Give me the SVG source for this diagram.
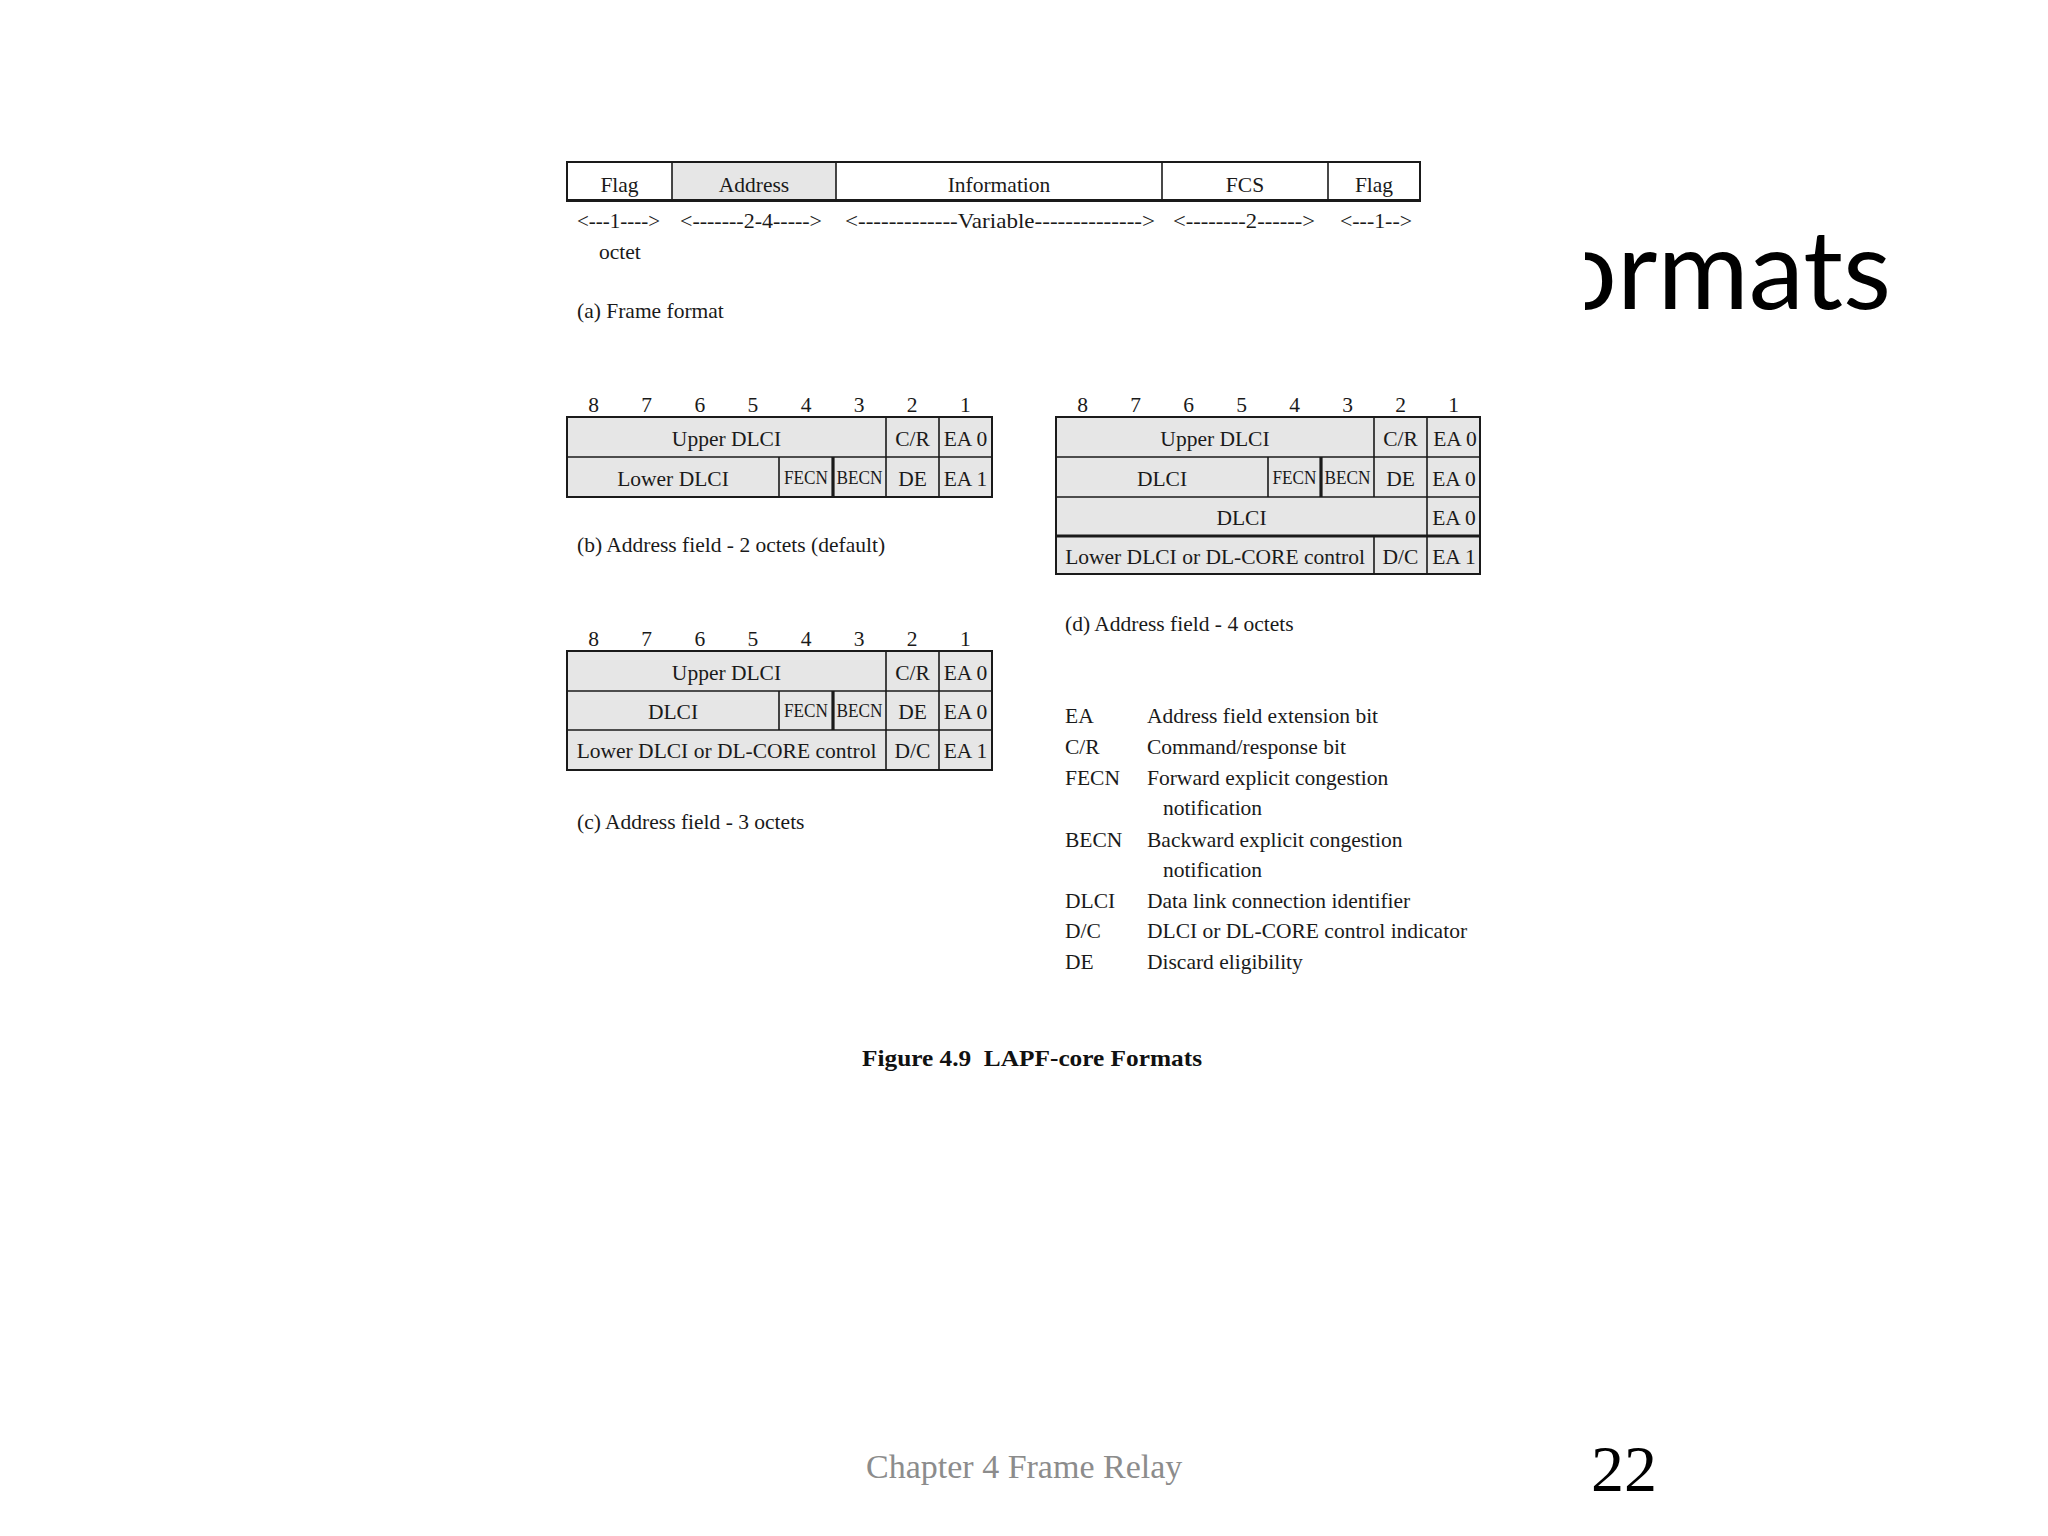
<svg xmlns="http://www.w3.org/2000/svg" width="2048" height="1536" viewBox="0 0 2048 1536">
<style>
.t{font-family:"Liberation Serif","Times New Roman",serif;font-size:21.5px;fill:#1a1a1a}
.m{text-anchor:middle}
.sm{font-family:"Liberation Serif","Times New Roman",serif;font-size:18px;fill:#1a1a1a;text-anchor:middle}
.cell{fill:#e6e6e6;stroke:none}
.wcell{fill:#ffffff;stroke:none}
.ln{stroke:#1a1a1a;stroke-width:1.6;fill:none}
.bd{stroke:#1a1a1a;stroke-width:2;fill:none}
.tk{stroke:#1a1a1a;stroke-width:3.2;fill:none}
</style>
<defs>
<clipPath id="titleclip"><rect x="1585" y="200" width="420" height="150"/></clipPath>
</defs>
<rect x="0" y="0" width="2048" height="1536" fill="#ffffff"/>

<g id="title" clip-path="url(#titleclip)">
<text x="1891" y="309" text-anchor="end" font-family="Lato,'Open Sans',sans-serif" font-size="111" fill="#000000">ormats</text>
</g>

<g id="frame-format">
<rect class="wcell" x="567" y="162" width="853" height="39"/>
<rect class="cell" x="672" y="162" width="164" height="39"/>
<rect class="bd" x="567" y="162" width="853" height="39"/>
<line class="tk" x1="567" y1="200.5" x2="1420" y2="200.5"/>
<line class="ln" x1="672" y1="162" x2="672" y2="201"/>
<line class="ln" x1="836" y1="162" x2="836" y2="201"/>
<line class="ln" x1="1162" y1="162" x2="1162" y2="201"/>
<line class="ln" x1="1328" y1="162" x2="1328" y2="201"/>
<text class="t m" x="619.5" y="192">Flag</text>
<text class="t m" x="754" y="192">Address</text>
<text class="t m" x="999" y="192">Information</text>
<text class="t m" x="1245" y="192">FCS</text>
<text class="t m" x="1374" y="192">Flag</text>
<text class="t" x="577" y="228" textLength="83" lengthAdjust="spacingAndGlyphs">&lt;---1----&gt;</text>
<text class="t" x="680" y="228" textLength="142" lengthAdjust="spacingAndGlyphs">&lt;-------2-4-----&gt;</text>
<text class="t" x="845" y="228" textLength="310" lengthAdjust="spacingAndGlyphs">&lt;-------------Variable--------------&gt;</text>
<text class="t" x="1173" y="228" textLength="142" lengthAdjust="spacingAndGlyphs">&lt;--------2------&gt;</text>
<text class="t" x="1340" y="228" textLength="72" lengthAdjust="spacingAndGlyphs">&lt;---1--&gt;</text>
<text class="t" x="599" y="259">octet</text>
<text class="t" x="577" y="318">(a) Frame format</text>
</g>

<g id="address-2-octets">
<text class="t m" x="593.6" y="412">8</text>
<text class="t m" x="646.7" y="412">7</text>
<text class="t m" x="699.8" y="412">6</text>
<text class="t m" x="752.9" y="412">5</text>
<text class="t m" x="806" y="412">4</text>
<text class="t m" x="859.1" y="412">3</text>
<text class="t m" x="912.2" y="412">2</text>
<text class="t m" x="965.3" y="412">1</text>
<rect class="cell" x="567" y="417" width="425" height="80"/>
<rect class="bd" x="567" y="417" width="425" height="80"/>
<line class="ln" x1="567" y1="457" x2="992" y2="457"/>
<line class="ln" x1="886" y1="417" x2="886" y2="497"/>
<line class="ln" x1="939" y1="417" x2="939" y2="497"/>
<line class="ln" x1="779" y1="457" x2="779" y2="497"/>
<line class="tk" x1="833" y1="457" x2="833" y2="497"/>
<text class="t m" x="726.5" y="446">Upper DLCI</text>
<text class="t m" x="912.5" y="446">C/R</text>
<text class="t m" x="965.5" y="446">EA 0</text>
<text class="t m" x="673" y="486">Lower DLCI</text>
<text class="sm" x="806" y="484" textLength="44" lengthAdjust="spacingAndGlyphs">FECN</text>
<text class="sm" x="859.5" y="484" textLength="46" lengthAdjust="spacingAndGlyphs">BECN</text>
<text class="t m" x="912.5" y="486">DE</text>
<text class="t m" x="965.5" y="486">EA 1</text>
<text class="t" x="577" y="552">(b) Address field - 2 octets (default)</text>
</g>

<g id="address-3-octets">
<text class="t m" x="593.6" y="646">8</text>
<text class="t m" x="646.7" y="646">7</text>
<text class="t m" x="699.8" y="646">6</text>
<text class="t m" x="752.9" y="646">5</text>
<text class="t m" x="806" y="646">4</text>
<text class="t m" x="859.1" y="646">3</text>
<text class="t m" x="912.2" y="646">2</text>
<text class="t m" x="965.3" y="646">1</text>
<rect class="cell" x="567" y="651" width="425" height="119"/>
<rect class="bd" x="567" y="651" width="425" height="119"/>
<line class="ln" x1="567" y1="691" x2="992" y2="691"/>
<line class="ln" x1="567" y1="730" x2="992" y2="730"/>
<line class="ln" x1="886" y1="651" x2="886" y2="770"/>
<line class="ln" x1="939" y1="651" x2="939" y2="770"/>
<line class="ln" x1="779" y1="691" x2="779" y2="730"/>
<line class="tk" x1="833" y1="691" x2="833" y2="730"/>
<text class="t m" x="726.5" y="680">Upper DLCI</text>
<text class="t m" x="912.5" y="680">C/R</text>
<text class="t m" x="965.5" y="680">EA 0</text>
<text class="t m" x="673" y="719">DLCI</text>
<text class="sm" x="806" y="717" textLength="44" lengthAdjust="spacingAndGlyphs">FECN</text>
<text class="sm" x="859.5" y="717" textLength="46" lengthAdjust="spacingAndGlyphs">BECN</text>
<text class="t m" x="912.5" y="719">DE</text>
<text class="t m" x="965.5" y="719">EA 0</text>
<text class="t m" x="726.5" y="758">Lower DLCI or DL-CORE control</text>
<text class="t m" x="912.5" y="758">D/C</text>
<text class="t m" x="965.5" y="758">EA 1</text>
<text class="t" x="577" y="829">(c) Address field - 3 octets</text>
</g>

<g id="address-4-octets">
<text class="t m" x="1082.5" y="412">8</text>
<text class="t m" x="1135.5" y="412">7</text>
<text class="t m" x="1188.5" y="412">6</text>
<text class="t m" x="1241.5" y="412">5</text>
<text class="t m" x="1294.5" y="412">4</text>
<text class="t m" x="1347.5" y="412">3</text>
<text class="t m" x="1400.5" y="412">2</text>
<text class="t m" x="1453.5" y="412">1</text>
<rect class="cell" x="1056" y="417" width="424" height="157"/>
<rect class="bd" x="1056" y="417" width="424" height="157"/>
<line class="ln" x1="1056" y1="457" x2="1480" y2="457"/>
<line class="ln" x1="1056" y1="497" x2="1480" y2="497"/>
<line class="tk" x1="1056" y1="536" x2="1480" y2="536"/>
<line class="ln" x1="1374" y1="417" x2="1374" y2="497"/>
<line class="ln" x1="1374" y1="536" x2="1374" y2="574"/>
<line class="ln" x1="1427" y1="417" x2="1427" y2="574"/>
<line class="ln" x1="1268" y1="457" x2="1268" y2="497"/>
<line class="tk" x1="1321" y1="457" x2="1321" y2="497"/>
<text class="t m" x="1215" y="446">Upper DLCI</text>
<text class="t m" x="1400.5" y="446">C/R</text>
<text class="t m" x="1455" y="446">EA 0</text>
<text class="t m" x="1162" y="486">DLCI</text>
<text class="sm" x="1294.5" y="484" textLength="44" lengthAdjust="spacingAndGlyphs">FECN</text>
<text class="sm" x="1347.5" y="484" textLength="46" lengthAdjust="spacingAndGlyphs">BECN</text>
<text class="t m" x="1400.5" y="486">DE</text>
<text class="t m" x="1454" y="486">EA 0</text>
<text class="t m" x="1241.5" y="525">DLCI</text>
<text class="t m" x="1454" y="525">EA 0</text>
<text class="t m" x="1215" y="564">Lower DLCI or DL-CORE control</text>
<text class="t m" x="1400.5" y="564">D/C</text>
<text class="t m" x="1454" y="564">EA 1</text>
<text class="t" x="1065" y="631">(d) Address field - 4 octets</text>
</g>

<g id="legend">
<text class="t" x="1065" y="723">EA</text>
<text class="t" x="1147" y="723">Address field extension bit</text>
<text class="t" x="1065" y="754">C/R</text>
<text class="t" x="1147" y="754">Command/response bit</text>
<text class="t" x="1065" y="785">FECN</text>
<text class="t" x="1147" y="785">Forward explicit congestion</text>
<text class="t" x="1163" y="815">notification</text>
<text class="t" x="1065" y="847">BECN</text>
<text class="t" x="1147" y="847">Backward explicit congestion</text>
<text class="t" x="1163" y="877">notification</text>
<text class="t" x="1065" y="908">DLCI</text>
<text class="t" x="1147" y="908">Data link connection identifier</text>
<text class="t" x="1065" y="938">D/C</text>
<text class="t" x="1147" y="938">DLCI or DL-CORE control indicator</text>
<text class="t" x="1065" y="969">DE</text>
<text class="t" x="1147" y="969">Discard eligibility</text>
</g>

<g id="figure-caption">
<text x="862" y="1066" font-family="'Liberation Serif','Times New Roman',serif" font-weight="bold" font-size="24" fill="#111111" textLength="340" lengthAdjust="spacingAndGlyphs" xml:space="preserve">Figure 4.9  LAPF-core Formats</text>
</g>

<g id="connectors"></g>

<g id="footer">
<text x="866" y="1478" font-family="'Liberation Serif','Times New Roman',serif" font-size="34" fill="#8c8c8c">Chapter 4 Frame Relay</text>
<text x="1591" y="1491" font-family="'Liberation Serif','Times New Roman',serif" font-size="66" fill="#000000">22</text>
</g>
</svg>
